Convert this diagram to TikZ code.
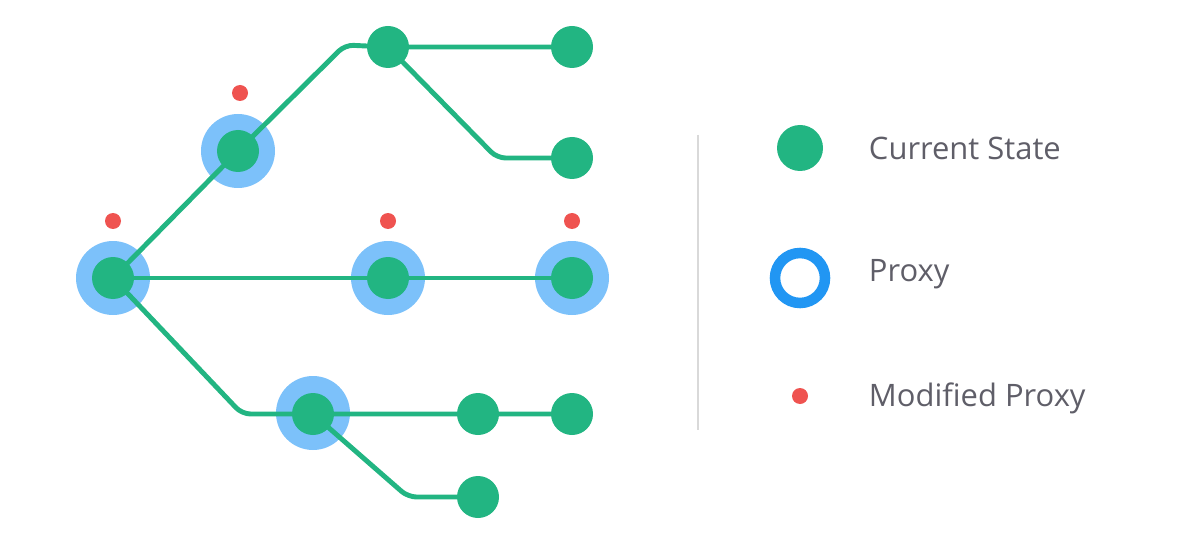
\documentclass[tikz,border=0pt]{standalone}
\usepackage{fontspec}
\setmainfont{Open Sans}
\definecolor{gr}{HTML}{22B582}
\definecolor{halo}{HTML}{7CC1FA}
\definecolor{rd}{HTML}{EF5350}
\definecolor{ring}{HTML}{2196F3}
\definecolor{txt}{HTML}{5F5E68}
\begin{document}
\begin{tikzpicture}[x=0.025cm,y=-0.025cm,
  st/.style={circle,fill=gr,minimum size=42*0.025cm,inner sep=0},
  px/.style={circle,fill=halo,minimum size=74*0.025cm,inner sep=0},
  md/.style={circle,fill=rd,minimum size=16*0.025cm,inner sep=0},
  ed/.style={draw=gr,line width=3.5pt,rounded corners=6pt},
  lbl/.style={anchor=west,text=txt,font=\fontsize{22}{24}\selectfont}]
\useasboundingbox (0,0) rectangle (1200,544);
% halos
\foreach \n/\x/\y in {hA/113/278,hB/238/151,hF/388/278,hG/572/278,hH/313/413}
  \node[px] (\n) at (\x,\y) {};
% corner coordinates
\coordinate (cBC) at (345,45);
\coordinate (cCE) at (497,158);
\coordinate (cAH) at (242,414);
\coordinate (cHK) at (408,497);
\coordinate (A) at (113,278); \coordinate (B) at (238,151);
\coordinate (C) at (388,47); \coordinate (D) at (572,47);
\coordinate (E) at (572,158); \coordinate (F) at (388,278);
\coordinate (G) at (572,278); \coordinate (H) at (313,414);
\coordinate (I) at (478,414); \coordinate (J) at (572,414);
\coordinate (K) at (478,497);
\draw[ed] (A) -- (B) -- (cBC) -- (C) -- (D);
\draw[ed] (C) -- (cCE) -- (E);
\draw[ed] (A) -- (F) -- (G);
\draw[ed] (A) -- (cAH) -- (H) -- (I) -- (J);
\draw[ed] (H) -- (cHK) -- (K);
\foreach \n in {A,B,C,D,E,F,G,H,I,J,K} \node[st] (n\n) at (\n) {};
\node[md] (m1) at (240,93) {};
\node[md] (m2) at (113,221) {};
\node[md] (m3) at (388,221) {};
\node[md] (m4) at (572,221) {};
% legend
\coordinate (s1) at (698,135); \coordinate (s2) at (698,430);
\draw[black!15,line width=1.2pt] (s1) -- (s2);
\node[st,minimum size=46*0.025cm] (lg1) at (800,148) {};
\node[circle,draw=ring,line width=7.5pt,minimum size=50*0.025cm,inner sep=0] (lg2) at (800,278) {};
\node[md] (lg3) at (800,396) {};
\node[lbl] (t1) at (864,148) {Current State};
\node[lbl] (t2) at (864,274) {Proxy};
\node[lbl] (t3) at (864,398) {Modified Proxy};
\end{tikzpicture}
\end{document}
